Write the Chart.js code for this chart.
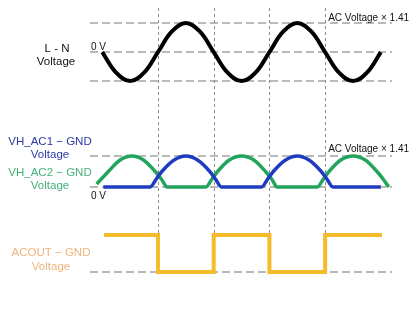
<!DOCTYPE html>
<html>
<head>
<meta charset="utf-8">
<script src="https://cdn.jsdelivr.net/npm/chart.js@4"></script>
<style>
  body { margin: 0; background: #fff; }
  #chart { display: block; }
</style>
</head>
<body>
<canvas id="chart" width="420" height="320"></canvas>
<script>
// time axis: 1 unit = half a mains period, 0 = first zero crossing of L-N
const lnTimes = [0, 0.25, 0.5, 0.75, 1, 1.25, 1.5, 1.75, 2, 2.25, 2.5, 2.75, 3, 3.25, 3.5, 3.75, 4, 4.25, 4.5, 4.75, 5];
const lnValues = [0, -0.71, -1, -0.71, 0, 0.71, 1, 0.71, 0, -0.71, -1, -0.71, 0, 0.71, 1, 0.71, 0, -0.71, -1, -0.71, 0];

const ac1Times = [0.02, 0.86, 0.97, 1.07, 1.29, 1.5, 1.71, 1.93, 2.03, 2.14, 2.86, 2.97, 3.07, 3.29, 3.5, 3.71, 3.93, 4.03, 4.14, 5.0];
const ac1Values = [0, 0, 0.26, 0.5, 0.87, 1, 0.87, 0.5, 0.26, 0, 0, 0.26, 0.5, 0.87, 1, 0.87, 0.5, 0.26, 0, 0];

const ac2Times = [-0.1, 0.11, 0.32, 0.53, 0.74, 0.95, 1.06, 1.17, 1.86, 1.97, 2.07, 2.28, 2.5, 2.72, 2.93, 3.04, 3.14, 3.86, 3.97, 4.07, 4.28, 4.5, 4.72, 4.93, 5.04, 5.14];
const ac2Values = [0.1, 0.5, 0.87, 1, 0.87, 0.5, 0.26, 0, 0, 0.26, 0.5, 0.87, 1, 0.87, 0.5, 0.26, 0, 0, 0.26, 0.5, 0.87, 1, 0.87, 0.5, 0.26, 0];

const outTimes = [0.03, 1, 2, 3, 4, 5.02];
const outLevels = [1, 0, 1, 0, 1, 1];

// reference lines
const lnGuides = [1, 0, -1];
const vhGuides = [1, 0];
const outGuides = [0];
const markerTimes = [1, 2, 3, 4];

const FONT = "'Liberation Sans', Arial, sans-serif";

const toPoints = (times, values) => times.map((t, i) => ({ x: t, y: values[i] }));

const sideLabels = [
  { text: 'L - N', x: 57, y: 52, color: '#111111' },
  { text: 'Voltage', x: 56, y: 64.5, color: '#111111' },
  { text: 'VH_AC1 \u2212 GND', x: 50, y: 145, color: '#2b3aa6' },
  { text: 'Voltage', x: 50, y: 158, color: '#2b3aa6' },
  { text: 'VH_AC2 \u2212 GND', x: 50, y: 176, color: '#44b078' },
  { text: 'Voltage', x: 50, y: 189, color: '#44b078' },
  { text: 'ACOUT \u2212 GND', x: 51, y: 256, color: '#ebb47c' },
  { text: 'Voltage', x: 51, y: 270, color: '#ebb47c' },
];

const guides = {
  id: 'guides',
  beforeDatasetsDraw(chart) {
    const { ctx, chartArea, scales } = chart;
    const { x, yLN, yVH, yOut } = scales;
    ctx.save();
    ctx.strokeStyle = '#a3a3a3';
    ctx.lineWidth = 1.5;
    ctx.setLineDash([8, 4]);
    const hline = (scale, v) => {
      const py = scale.getPixelForValue(v);
      ctx.beginPath();
      ctx.moveTo(chartArea.left, py);
      ctx.lineTo(chartArea.right, py);
      ctx.stroke();
    };
    lnGuides.forEach((v) => hline(yLN, v));
    vhGuides.forEach((v) => hline(yVH, v));
    outGuides.forEach((v) => hline(yOut, v));

    ctx.strokeStyle = '#8c8c8c';
    ctx.lineWidth = 1;
    ctx.setLineDash([3, 3]);
    const bottom = yOut.getPixelForValue(1);
    markerTimes.forEach((t) => {
      const px = Math.round(x.getPixelForValue(t)) + 0.5;
      ctx.beginPath();
      ctx.moveTo(px, chartArea.top);
      ctx.lineTo(px, bottom);
      ctx.stroke();
    });
    ctx.restore();
  },
  afterDatasetsDraw(chart) {
    const { ctx, chartArea, scales } = chart;
    const { x, yLN, yVH } = scales;
    ctx.save();
    ctx.textBaseline = 'alphabetic';

    ctx.font = `11.5px ${FONT}`;
    ctx.textAlign = 'center';
    sideLabels.forEach((l) => {
      ctx.fillStyle = l.color;
      ctx.fillText(l.text, l.x, l.y);
    });

    ctx.font = `10px ${FONT}`;
    ctx.textAlign = 'left';
    ctx.fillStyle = '#111111';
    ctx.fillText('0 V', chartArea.left + 1, yLN.getPixelForValue(0) - 2);
    ctx.fillText('0 V', chartArea.left + 1, yVH.getPixelForValue(0) + 12);
    const acX = x.getPixelForValue(markerTimes[3]) + 3;
    ctx.fillText('AC Voltage \u00d7 1.41', acX, yLN.getPixelForValue(1) - 2.5);
    ctx.fillText('AC Voltage \u00d7 1.41', acX, yVH.getPixelForValue(1) - 4);
    ctx.restore();
  },
};

const row = (min, max, weight, stackWeight) => ({
  type: 'linear',
  position: 'left',
  stack: 'rows',
  stackWeight,
  weight,
  min,
  max,
  display: false,
});

new Chart(document.getElementById('chart'), {
  type: 'line',
  data: {
    datasets: [
      {
        label: 'L - N Voltage',
        data: toPoints(lnTimes, lnValues),
        yAxisID: 'yLN',
        borderColor: '#000000',
        borderWidth: 4,
        tension: 0.4,
      },
      {
        label: 'VH_AC1 - GND Voltage',
        data: toPoints(ac1Times, ac1Values),
        yAxisID: 'yVH',
        borderColor: '#1f3cc0',
        borderWidth: 3.5,
        cubicInterpolationMode: 'monotone',
      },
      {
        label: 'VH_AC2 - GND Voltage',
        data: toPoints(ac2Times, ac2Values),
        yAxisID: 'yVH',
        borderColor: '#22a45c',
        borderWidth: 3.5,
        cubicInterpolationMode: 'monotone',
      },
      {
        label: 'ACOUT - GND Voltage',
        data: toPoints(outTimes, outLevels),
        yAxisID: 'yOut',
        borderColor: '#f5bb2a',
        borderWidth: 4,
        stepped: 'before',
        borderJoinStyle: 'miter',
      },
    ],
  },
  options: {
    responsive: false,
    animation: false,
    devicePixelRatio: 1,
    clip: false,
    layout: { padding: { left: 90, right: 28, top: 8, bottom: 20 } },
    elements: { point: { radius: 0 }, line: { fill: false } },
    plugins: { legend: { display: false }, tooltip: { enabled: false } },
    scales: {
      x: { type: 'linear', min: -0.22, max: 5.2, display: false },
      yLN: row(-2, 1.52, 3, 102),
      yVH: row(-0.9, 2.48, 2, 105),
      yOut: row(-0.76, 1.54, 1, 85),
    },
  },
  plugins: [guides],
});
</script>
</body>
</html>
